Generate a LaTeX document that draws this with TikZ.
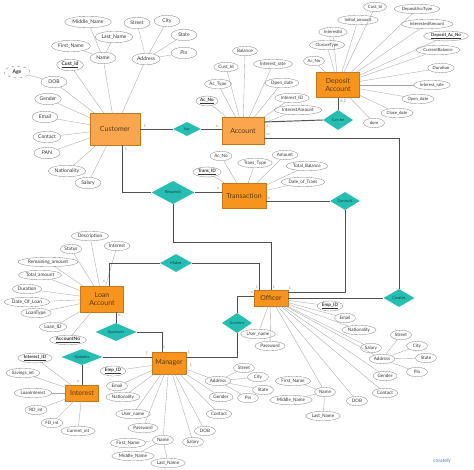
\documentclass[tikz,border=0pt]{standalone}
\usepackage{fontspec}
\setmainfont{Lato}
\usetikzlibrary{shapes.geometric}
\definecolor{entlight}{HTML}{F9A64F}
\definecolor{entdark}{HTML}{F7941D}
\definecolor{entline}{HTML}{C8761A}
\definecolor{enttext}{HTML}{5A3A14}
\definecolor{relfill}{HTML}{26BDB3}
\definecolor{reltext}{HTML}{0D4B47}
\definecolor{linkcol}{HTML}{505050}
\definecolor{attline}{HTML}{8A8A8A}
\definecolor{crblue}{HTML}{3D7CC9}
\newcommand{\pk}[1]{\underline{\textbf{#1}}}
\tikzset{
  ent/.style 2 args={draw=entline, fill=entdark, text=enttext, align=center,
    font=\fontsize{7}{7.5}\selectfont, inner sep=0pt,
    minimum width=#1, minimum height=#2},
  rel/.style 2 args={diamond, aspect=2, fill=relfill, text=reltext, inner sep=0pt,
    font=\fontsize{4}{4.5}\selectfont, minimum width=#1, minimum height=#2},
  attr/.style={ellipse, draw=attline, line width=0.35pt, fill=white, text=black!80,
    font=\fontsize{#1}{#1}\selectfont, inner xsep=1pt, inner ysep=0.5pt,
    minimum width=21pt, minimum height=9.5pt},
  attr/.default=4.6,
  cattr/.style={attr=5.1, minimum width=26pt, minimum height=11.5pt},
  link/.style={draw=linkcol, line width=0.95pt},
  att/.style={draw=black!35, line width=0.35pt},
  card/.style={text=black!50, font=\fontsize{3.6}{4}\selectfont, inner sep=0pt}
}
\begin{document}
\begin{tikzpicture}[x=1pt, y=-1pt]
  \useasboundingbox[fill=white] (0,0) rectangle (474,470);
  % entities
  \node[ent={50pt}{32pt}, fill=entlight] (cust) at (115,129) {Customer};
  \node[ent={42pt}{27pt}, fill=entlight] (acc) at (243,131) {Account};
  \node[ent={43pt}{25pt}] (dep) at (338,85) {Deposit\\Account};
  \node[ent={44pt}{25pt}] (trans) at (244,195.5) {Transaction};
  \node[ent={43pt}{26pt}] (loan) at (102,299) {Loan\\Account};
  \node[ent={34pt}{16pt}] (off) at (271,298) {Officer};
  \node[ent={34pt}{22pt}] (man) at (169,363) {Manager};
  \node[ent={33pt}{16pt}] (int) at (82,393) {Interest};
  % relationships
  \node[rel={28pt}{14pt}] (has) at (187,129) {has};
  \node[rel={30pt}{20pt}] (canbe) at (338,120) {Can be};
  \node[rel={43pt}{23pt}] (req) at (173,192.5) {Requests};
  \node[rel={30pt}{18pt}] (ctrl) at (345,201) {Controls};
  \node[rel={32pt}{18pt}] (makes) at (176,263) {Makes};
  \node[rel={41pt}{18pt}] (appr) at (116,332) {Approves};
  \node[rel={30pt}{20pt}] (gov) at (237,323) {Governs};
  \node[rel={31pt}{18pt}] (creates) at (399,298) {Creates};
  \node[rel={41pt}{16pt}] (upd) at (82,357) {Updates};
  % customer attributes
  \node[cattr] (cMid) at (88,22) {Middle\_Name};
  \node[cattr] (cLast) at (114,37) {Last\_Name};
  \node[cattr] (cFirst) at (71,46) {First\_Name};
  \node[cattr] (cName) at (103,58) {Name};
  \node[cattr] (cStreet) at (137,23) {Street};
  \node[cattr] (cCity) at (167,21) {City};
  \node[cattr] (cState) at (184,35) {State};
  \node[cattr] (cPin) at (184,53) {Pin};
  \node[cattr] (cAddr) at (146,59) {Address};
  \node[cattr] (cId) at (70,65) {\pk{Cust\_id}};
  \node[cattr, dashed] (cAge) at (17,72) {\textbf{Age}};
  \node[cattr] (cDob) at (54,82) {DOB};
  \node[cattr] (cGender) at (48,99) {Gender};
  \node[cattr] (cEmail) at (45,117) {Email};
  \node[cattr] (cContact) at (47,137) {Contact};
  \node[cattr] (cPan) at (47,153) {PAN};
  \node[cattr] (cNat) at (67,171) {Nationality};
  \node[cattr] (cSal) at (88,183) {Salary};
  % account attributes
  \node[attr] (aBal) at (245,51) {Balance};
  \node[attr] (aCust) at (226,67) {Cust\_Id};
  \node[attr] (aRate) at (273,64) {Interest\_rate};
  \node[attr] (aType) at (218,84) {Ac\_Type};
  \node[attr] (aOpen) at (282,83) {Open\_date};
  \node[attr] (aNo) at (207,101) {\pk{Ac\_No}};
  \node[attr] (aIntId) at (292,98) {Interest\_ID};
  \node[attr] (aIntAmt) at (298,110) {InterestAmount};
  % deposit account attributes
  \node[attr=4.3] (dCust) at (375,7) {Cust\_Id};
  \node[attr=4.3] (dType) at (417,9) {DepositAccType};
  \node[attr=4.3] (dInit) at (358,20) {Initial\_amount};
  \node[attr=4.3] (dIntAmt) at (427,24) {InterestedAmount};
  \node[attr=4.3] (dIntId) at (333,32) {InterestId};
  \node[attr=4.3] (dNo) at (446,36) {\pk{Deposit\_Ac\_No}};
  \node[attr=4.3] (dClos) at (327,45) {ClosureType};
  \node[attr=4.3] (dCurr) at (438,50) {CurrentBalance};
  \node[attr=4.3] (dAcNo) at (314,61) {Ac\_No};
  \node[attr=4.3] (dDur) at (441,68) {Duration};
  \node[attr=4.3] (dRate) at (432,85) {Interest\_rate};
  \node[attr=4.3] (dOpen) at (418,99) {Open\_date};
  \node[attr=4.3] (dClose) at (397,113) {Close\_date};
  \node[attr=4.3] (dDom) at (374,123) {dom};
  % transaction attributes
  \node[attr] (tNo) at (221,156) {Ac\_No};
  \node[attr] (tType) at (255,163) {Trans\_Type};
  \node[attr] (tAmt) at (285,155) {Amount};
  \node[attr] (tBal) at (307,166) {Total\_Balance};
  \node[attr] (tId) at (207,172) {\pk{Trans\_ID}};
  \node[attr] (tDate) at (303,182) {Date\_of\_Trans};
  % loan account attributes
  \node[attr=4.8] (lDesc) at (90,236) {Description};
  \node[attr=4.8] (lStat) at (71,249) {Status};
  \node[attr=4.8] (lInt) at (117,246) {Interest};
  \node[attr=4.8] (lRem) at (48,262) {Remaining\_amount};
  \node[attr=4.8] (lTot) at (40,275) {Total\_amount};
  \node[attr=4.8] (lDur) at (27,289) {Duration};
  \node[attr=4.8] (lDate) at (27,302) {Date\_Of\_Loan};
  \node[attr=4.8] (lType) at (36,313) {LoanType};
  \node[attr=4.8] (lId) at (53,327) {Loan\_ID};
  \node[attr=4.8] (lAcc) at (68,340) {\pk{AccountNo}};
  % officer attributes
  \node[attr] (oId) at (330,306) {\pk{Emp\_ID}};
  \node[attr] (oEmail) at (345,318) {Email};
  \node[attr] (oNat) at (359,330) {Nationality};
  \node[attr] (oUser) at (258,334) {User\_name};
  \node[attr] (oPass) at (270,346) {Password};
  \node[attr] (oSal) at (371,348) {Salary};
  \node[attr] (oAddr) at (382,359) {Address};
  \node[attr] (oStreet) at (401,335) {Street};
  \node[attr] (oCity) at (417,346) {City};
  \node[attr] (oState) at (426,358) {State};
  \node[attr] (oPin) at (417,372) {Pin};
  \node[attr] (oGender) at (385,376) {Gender};
  \node[attr] (oContact) at (385,393) {Contact};
  \node[attr] (oDob) at (357,401) {DOB};
  \node[attr] (oName) at (325,392) {Name};
  \node[attr] (oFirst) at (293,381) {First\_Name};
  \node[attr] (oMid) at (291,400) {Middle\_Name};
  \node[attr] (oLast) at (323,416) {Last\_Name};
  % manager attributes
  \node[attr] (mId) at (113,371) {\pk{Emp\_ID}};
  \node[attr] (mEmail) at (117,386) {Email};
  \node[attr] (mNat) at (123,397) {Nationality};
  \node[attr] (mUser) at (133,414) {User\_name};
  \node[attr] (mPass) at (143,428) {Password};
  \node[attr] (mFirst) at (128,443) {First\_Name};
  \node[attr] (mMid) at (133,456) {Middle\_Name};
  \node[attr] (mName) at (163,440) {Name};
  \node[attr] (mLast) at (168,463) {Last\_Name};
  \node[attr] (mSal) at (193,442) {Salary};
  \node[attr] (mDob) at (205,431) {DOB};
  \node[attr] (mContact) at (219,414) {Contact};
  \node[attr] (mGender) at (221,397) {Gender};
  \node[attr] (mAddr) at (218,381) {Address};
  \node[attr] (mStreet) at (244,368) {Street};
  \node[attr] (mCity) at (258,377) {City};
  \node[attr] (mState) at (263,390) {State};
  \node[attr] (mPin) at (248,398) {Pin};
  % interest attributes
  \node[attr=4.5] (iId) at (35,358) {\pk{Interest\_ID}};
  \node[attr=4.5] (iSav) at (23,373) {Savings\_int};
  \node[attr=4.5] (iLoan) at (33,393) {LoanInterest};
  \node[attr=4.5] (iRd) at (36,410) {RD\_int};
  \node[attr=4.5] (iFd) at (52,423) {FD\_int};
  \node[attr=4.5] (iCur) at (78,431) {Current\_int};
  % attribute lines
  \begin{scope}[att]
    \foreach \a in {cName,cAddr,cId,cDob,cGender,cEmail,cContact,cPan,cNat,cSal}
      \draw (\a) -- (cust);
    \foreach \a in {cFirst,cMid,cLast} \draw (\a) -- (cName);
    \foreach \a in {cStreet,cCity,cState,cPin} \draw (\a) -- (cAddr);
    \draw (cAge) -- (cDob);
    \foreach \a in {aBal,aCust,aRate,aType,aOpen,aNo,aIntId,aIntAmt}
      \draw (\a) -- (acc);
    \foreach \a in {dCust,dType,dInit,dIntAmt,dIntId,dNo,dClos,dCurr,dAcNo,dDur,dRate,dOpen,dClose,dDom}
      \draw (\a) -- (dep);
    \foreach \a in {tNo,tType,tAmt,tBal,tId,tDate} \draw (\a) -- (trans);
    \foreach \a in {lDesc,lStat,lInt,lRem,lTot,lDur,lDate,lType,lId,lAcc}
      \draw (\a) -- (loan);
    \foreach \a in {oId,oEmail,oNat,oUser,oPass,oSal,oAddr,oGender,oContact,oDob,oName}
      \draw (\a) -- (off);
    \foreach \a in {oStreet,oCity,oState,oPin} \draw (\a) -- (oAddr);
    \foreach \a in {oFirst,oMid,oLast} \draw (\a) -- (oName);
    \foreach \a in {mId,mEmail,mNat,mUser,mPass,mName,mSal,mDob,mContact,mGender,mAddr}
      \draw (\a) -- (man);
    \foreach \a in {mFirst,mMid,mLast} \draw (\a) -- (mName);
    \foreach \a in {mStreet,mCity,mState,mPin} \draw (\a) -- (mAddr);
    \foreach \a in {iId,iSav,iLoan,iRd,iFd,iCur} \draw (\a) -- (int);
  \end{scope}
  % relationship lines
  \begin{scope}[link]
    \draw (cust) -- (has);
    \draw (has.east) -- (has.east -| acc.west);
    \draw ([yshift=9pt]acc.east) -- (canbe.west);
    \draw (dep) -- (canbe);
    \draw ([yshift=-7pt]acc.east) -| (creates.north);
    \draw ([xshift=7pt]cust.south) |- (req.west);
    \draw (req.east) -- (req.east -| trans.west);
    \draw (req.south) -- (req.south |- 0,242) -| (off.north);
    \draw ([xshift=7pt]loan.north) |- (makes.west);
    \draw (makes.east) -| ([xshift=-12pt]off.north);
    \draw (ctrl.west -| trans.east) -- (ctrl.west);
    \draw (ctrl.south) |- ([yshift=6pt]off.east);
    \draw (off) -- (creates);
    \draw ([yshift=2pt]off.west) -| (gov.north);
    \draw (gov.south) |- ([yshift=6pt]man.east);
    \draw (appr.north |- loan.south) -- (appr.north);
    \draw (appr.east) -| ([xshift=-7pt]man.north);
    \draw (upd.south) -- (int.north);
    \draw (upd.east) -- (upd.east -| man.west);
  \end{scope}
  % cardinalities
  \node[card] (k1) at (145,126) {1};
  \node[card] (k2) at (217,127) {n};
  \node[card] (k3) at (126,149) {1};
  \node[card] (k4) at (218,189) {n};
  \node[card] (k5) at (269,199) {n};
  \node[card] (k6) at (268,126) {1};
  \node[card] (k7) at (268,135) {m};
  \node[card] (k8) at (343,101) {0..2};
  \node[card] (k9) at (104,282) {n};
  \node[card] (k10) at (119,316) {n};
  \node[card] (k11) at (164,347) {1};
  \node[card] (k12) at (147,353) {1};
  \node[card] (k13) at (189,352) {1};
  \node[card] (k14) at (191,365) {1};
  \node[card] (k15) at (257,287) {1};
  \node[card] (k16) at (274,287) {1};
  \node[card] (k17) at (290,288) {1};
  \node[card] (k18) at (252,293) {n};
  \node[card] (k19) at (78,382) {n};
  \node[text=crblue, font=\fontsize{5}{6}\selectfont] (logo) at (442,461) {creately};
\end{tikzpicture}
\end{document}
